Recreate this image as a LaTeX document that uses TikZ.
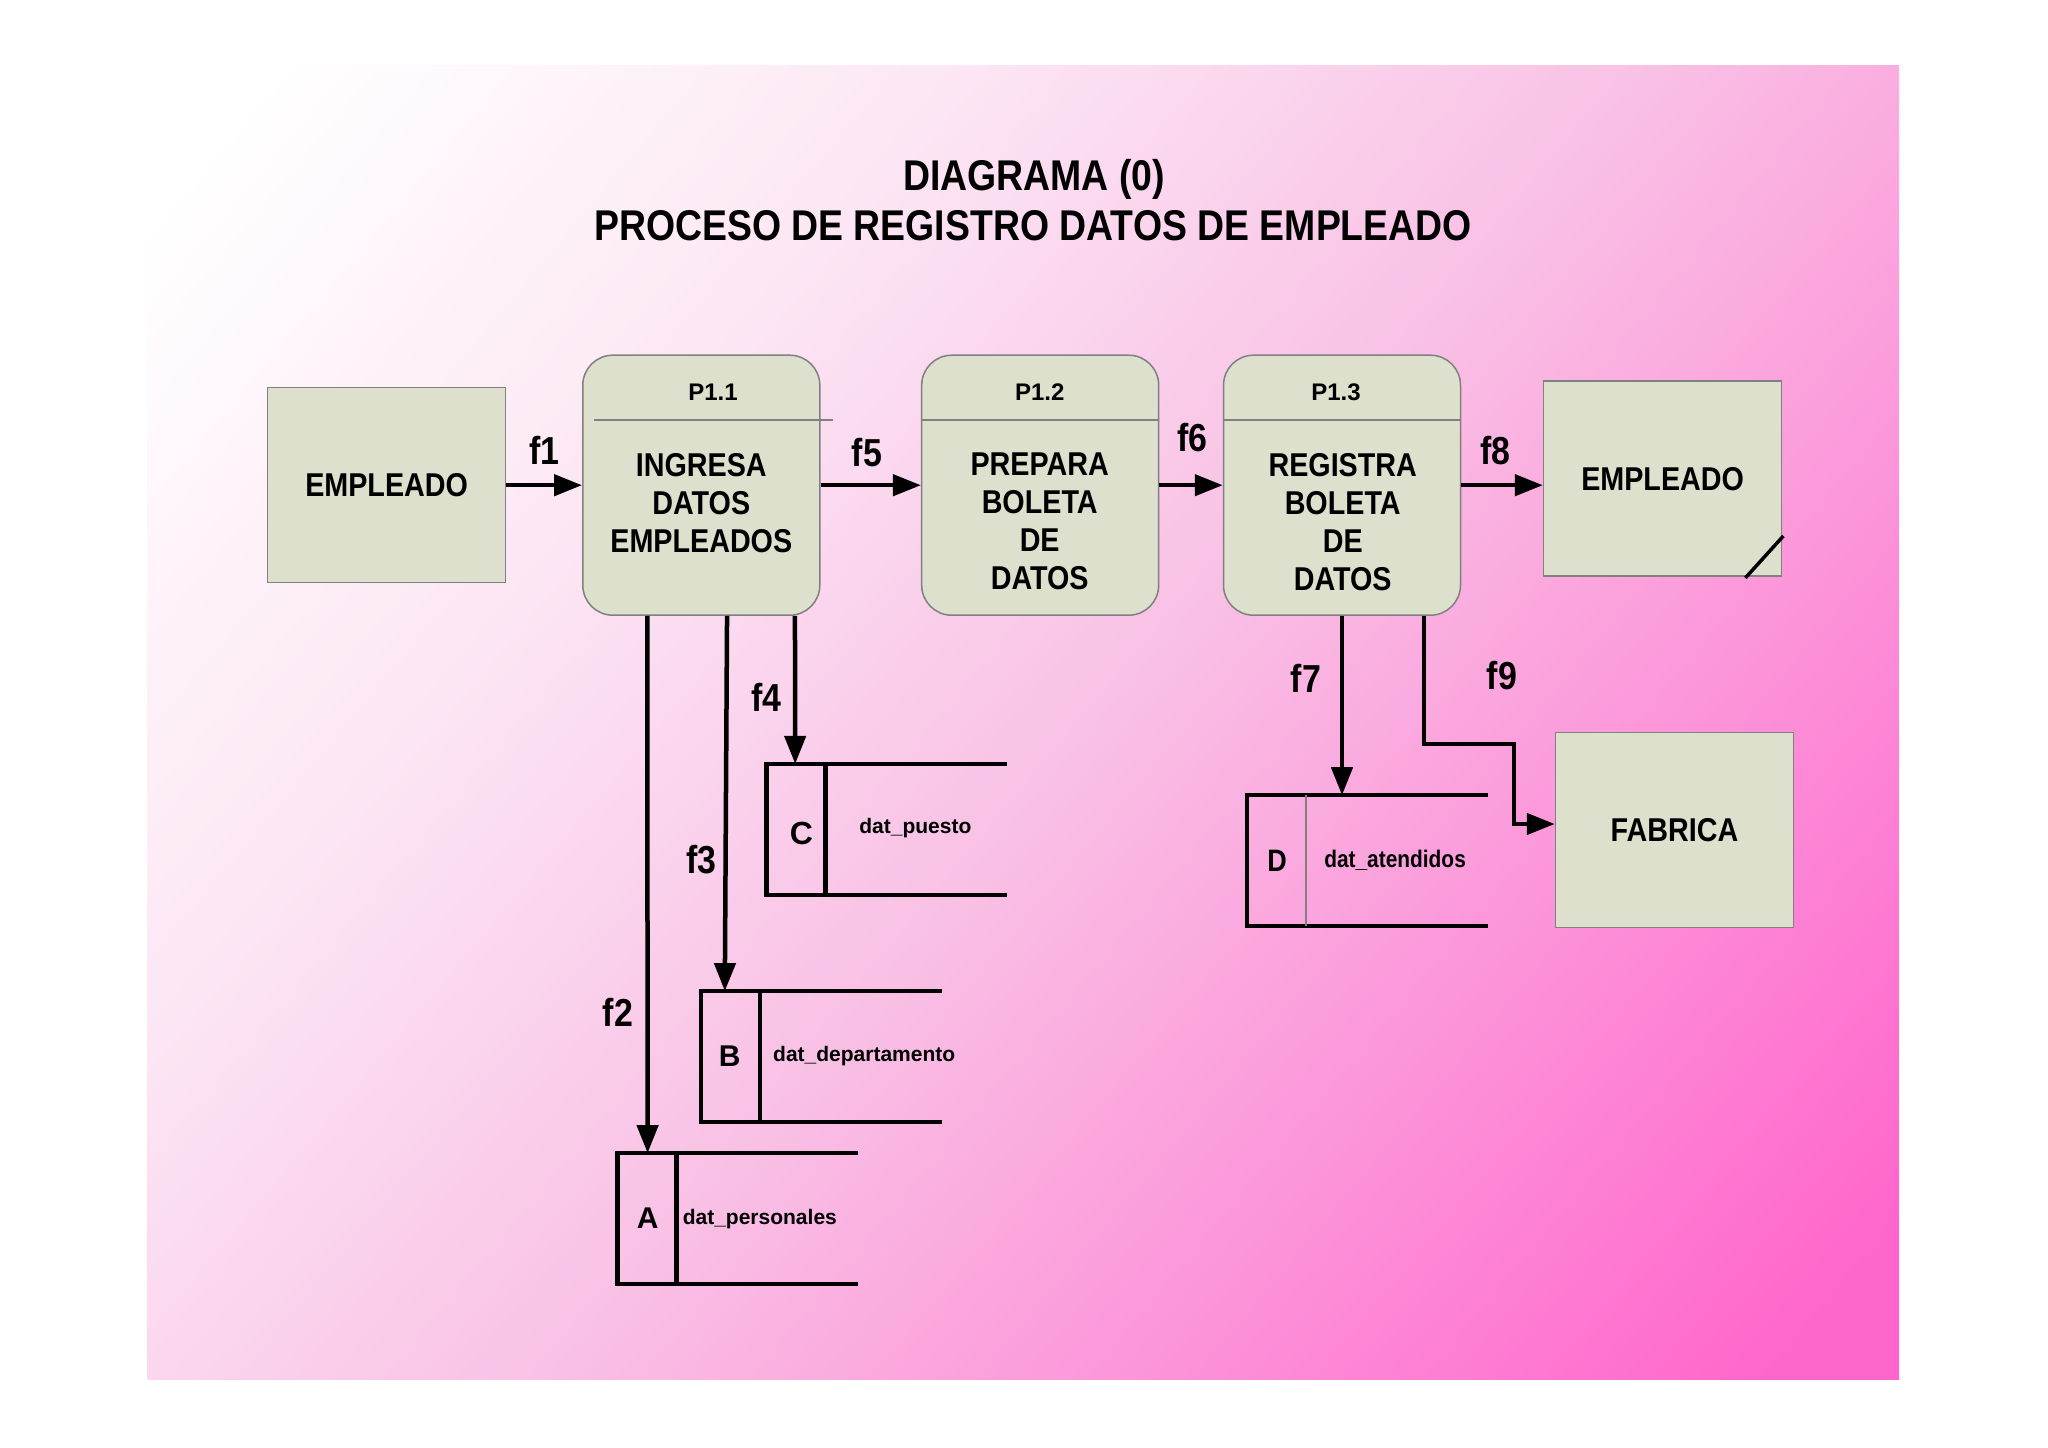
\documentclass[tikz,border=0pt]{standalone}
\usepackage{fontspec}
\setmainfont{Liberation Sans}
\newfontfamily\narrow[FakeStretch=0.87]{Liberation Sans}
\usetikzlibrary{arrows.meta,calc}
\definecolor{boxfill}{RGB}{221,224,204}
\definecolor{boxline}{RGB}{128,128,128}
\definecolor{pinkA}{RGB}{252,230,244}
\definecolor{pinkB}{RGB}{249,192,229}
\definecolor{pinkC}{RGB}{255,102,204}
\pgfdeclarehorizontalshading{bgshade}{100bp}{color(0bp)=(white); color(18bp)=(white); color(35bp)=(pinkA); color(52bp)=(pinkB); color(82bp)=(pinkC); color(100bp)=(pinkC)}
\begin{document}
\begin{tikzpicture}[x=1pt,y=-1pt,
  ext/.style={draw=boxline, line width=1.5pt, fill=boxfill, minimum width=238pt, minimum height=195pt, inner sep=0pt, font=\narrow\bfseries\fontsize{33}{38}\selectfont},
  proc/.style={draw=boxline, line width=1.5pt, fill=boxfill, rounded corners=30pt, minimum width=237pt, minimum height=260pt, inner sep=0pt},
  divline/.style={draw=boxline, line width=1.5pt},
  flow/.style={line width=4.5pt, -{Triangle[length=28pt,width=21pt]}},
  storeline/.style={line width=4.5pt, line cap=rect},
  store/.style={minimum width=238pt, minimum height=130.6pt, inner sep=0pt},
  bigtxt/.style={font=\narrow\bfseries\fontsize{33}{38}\selectfont, align=center, inner sep=0pt},
  ptxt/.style={font=\bfseries\fontsize{24}{28}\selectfont, inner sep=0pt},
  ftxt/.style={font=\narrow\bfseries\fontsize{39}{44}\selectfont, inner sep=0pt},
  lettxt/.style={font=\bfseries\fontsize{30}{33}\selectfont, inner sep=0pt},
  stxt/.style={font=\bfseries\fontsize{21}{24}\selectfont, inner sep=0pt, anchor=west},
  ttxt/.style={font=\narrow\bfseries\fontsize{43}{50}\selectfont, inner sep=0pt, anchor=base},
]
\useasboundingbox (0,0) rectangle (2048,1448);
\fill[white] (0,0) rectangle (2048,1448);
\shade[shading=bgshade, shading angle=-40] (147.6,65.3) rectangle (1899,1379.3);

% title
\node[ttxt] (t1) at (1034,190.4) {DIAGRAMA (0)};
\node[ttxt] (t2) at (1033,240) {PROCESO DE REGISTRO DATOS DE EMPLEADO};

% external entities
\node[ext] (e1) at (386.6,485.2) {EMPLEADO};
\node[ext] (e2) at (1662.6,478.7) {EMPLEADO};
\node[ext] (fab) at (1674.5,830) {FABRICA};
\draw[line width=3.5pt] ($(e2.south east)+(-37,1)$) -- ($(e2.south east)+(1,-41)$);

% processes
\node[proc] (p11) at (701.3,485.2) {};
\node[proc] (p12) at (1040.2,485.2) {};
\node[proc] (p13) at (1342,485.2) {};
\draw[divline] ($(p11.north west)+(12,65.3)$) -- ($(p11.north east)+(12,65.3)$);
\draw[divline] ($(p12.north west)+(0,65.3)$) -- ($(p12.north east)+(0,65.3)$);
\draw[divline] ($(p13.north west)+(0,65.3)$) -- ($(p13.north east)+(0,65.3)$);
\node[ptxt] (p11n) at (713,391.8) {P1.1};
\node[ptxt] (p12n) at (1039.7,391.8) {P1.2};
\node[ptxt] (p13n) at (1336,391.8) {P1.3};
\node[bigtxt, anchor=north] (p11t) at (701.3,453) {INGRESA\\DATOS\\EMPLEADOS};
\node[bigtxt, anchor=north] (p12t) at (1039.7,453) {PREPARA\\BOLETA\\DE\\DATOS};
\node[bigtxt, anchor=north] (p13t) at (1342.7,453) {REGISTRA\\BOLETA\\DE\\DATOS};

% data stores
\node[store] (sA) at (736.8,1218.6) {};
\node[store] (sB) at (820.4,1056.6) {};
\node[store] (sC) at (885.7,829.4) {};
\node[store] (sD) at (1366.3,860.7) {};
\foreach \s in {sA,sB,sC,sD}{
  \draw[storeline] (\s.north east) -- (\s.north west) -- (\s.south west) -- (\s.south east);
}
\foreach \s in {sA,sB,sC}{
  \draw[storeline] ($(\s.north west)+(58.8,0)$) -- ($(\s.south west)+(58.8,0)$);
}
\draw[divline] ($(sD.north west)+(58.7,0)$) -- ($(sD.south west)+(58.7,0)$);
\node[lettxt] (sAl) at ($(sA.west)+(30,0)$) {A};
\node[lettxt] (sBl) at ($(sB.west)+(28.6,0)$) {B};
\node[lettxt, font=\bfseries\fontsize{32}{35}\selectfont] (sCl) at ($(sC.west)+(35,4)$) {C};
\node[lettxt, font=\narrow\bfseries\fontsize{31}{34}\selectfont] (sDl) at ($(sD.west)+(30,0)$) {D};
\node[stxt] (sAt) at ($(sA.west)+(65,0)$) {dat\_personales};
\node[stxt] (sBt) at ($(sB.west)+(71.8,-1)$) {dat\_departamento};
\node[stxt] (sCt) at ($(sC.west)+(92.7,-1)$) {dat\_puesto};
\node[stxt, font=\narrow\bfseries\fontsize{24}{27}\selectfont] (sDt) at ($(sD.west)+(77,0)$) {dat\_atendidos};

% flows
\draw[flow] (e1.east |- p11.west) -- (p11.west);
\draw[flow] (p11.east) -- (p12.west);
\draw[flow] (p12.east) -- (p13.west);
\draw[flow] (p13.east) -- (p13.east -| e2.west);
\draw[flow] ($(p11.south west)+(65.3,0)$) -- ($(sA.north west)+(30,0)$);
\draw[flow] ($(p11.south west)+(145,0)$) -- ($(sB.north west)+(23.6,0)$);
\draw[flow] ($(p11.south west)+(212.9,0)$) -- ($(sC.north west)+(28.7,0)$);
\draw[flow] (p13.south) -- (p13.south |- sD.north);
\draw[flow] ($(p13.south west)+(201,0)$) -- ++(0,128) -| ($(fab.west)+(-41,-6)$) -- ($(fab.west)+(0,-6)$);

% flow labels
\node[ftxt] (lf1) at (544.7,450.6) {f1};
\node[ftxt] (lf5) at (867,453) {f5};
\node[ftxt] (lf6) at (1192.5,437.5) {f6};
\node[ftxt] (lf8) at (1495.5,450.6) {f8};
\node[ftxt] (lf2) at (617.8,1012) {f2};
\node[ftxt] (lf3) at (701.4,859.4) {f3};
\node[ftxt] (lf4) at (766.7,697.5) {f4};
\node[ftxt] (lf7) at (1306,677.9) {f7};
\node[ftxt] (lf9) at (1502,675.3) {f9};
\end{tikzpicture}
\end{document}
